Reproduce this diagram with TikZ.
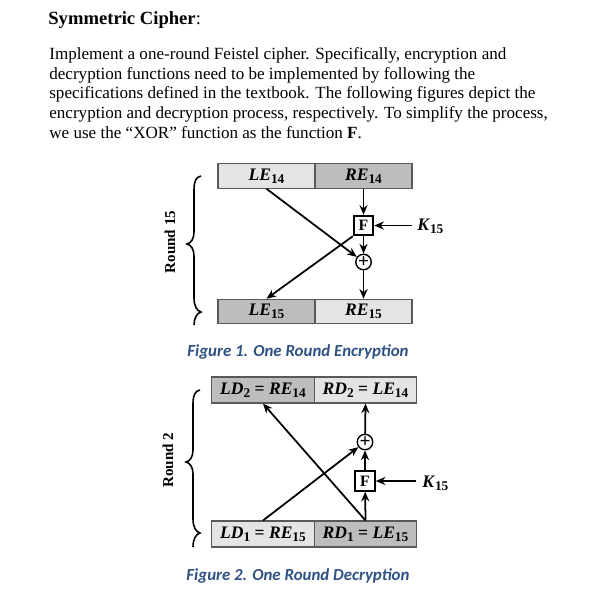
\documentclass[tikz,border=0pt]{standalone}
\usepackage{fontspec}
\setmainfont{Liberation Serif}
\newfontfamily\capfont{Carlito}
\usetikzlibrary{arrows.meta,positioning}
\definecolor{lightcell}{HTML}{E4E4E6}
\definecolor{darkcell}{HTML}{BCBDBF}
\definecolor{capblue}{HTML}{2F5283}
\newcommand{\halfblock}[2]{\textit{#1}\raisebox{-0.4ex}{\fontsize{7.6}{8}\selectfont\upshape #2}}
\begin{document}
\begin{tikzpicture}[
    x=0.02cm, y=-0.02cm,
    cell/.style={draw=black!65, line width=0.6pt, minimum height=0.49cm, inner sep=0pt, font=\fontsize{10}{10}\selectfont\bfseries},
    widecell/.style={cell, minimum height=0.52cm, minimum width=2.05cm, font=\fontsize{10}{10}\selectfont\bfseries},
    narrowcell/.style={cell, minimum width=1.94cm},
    fbox/.style={draw, line width=1.1pt, fill=white, minimum size=0.39cm, inner sep=0pt, font=\fontsize{9}{9}\selectfont\bfseries},
    xorc/.style={draw, circle, line width=0.8pt, fill=white, minimum size=0.29cm, inner sep=0pt, font=\fontsize{11}{8}\selectfont\bfseries},
    arr/.style={line width=1pt, -{Stealth[length=5.5pt,width=4.6pt]}},
    brc/.style={line width=0.9pt},
    hdr/.style={font=\fontsize{8.6}{10}\selectfont\bfseries, rotate=90},
    fig/.style={font=\fontsize{9.6}{10}\selectfont\capfont\bfseries\itshape, text=capblue},
    keytxt/.style={font=\fontsize{10}{10}\selectfont\bfseries, anchor=west, inner sep=0pt},
]
\useasboundingbox (0,0) rectangle (604,600);

% Heading and paragraph
\node[anchor=west, inner sep=0pt, font=\fontsize{10.6}{12}\selectfont] (title) at (48,20.5) {\textbf{Symmetric Cipher}:};
\node[anchor=north west, inner sep=0pt, align=left, font=\fontsize{9.72}{11.2}\selectfont] (para) at (49,47) {Implement a one-round Feistel cipher. Specifically, encryption and\\
decryption functions need to be implemented by following the\\
specifications defined in the textbook. The following figures depict the\\
encryption and decryption process, respectively. To simplify the process,\\
we use the “XOR” function as the function \textbf{F}.};

% Figure 1
\node[narrowcell, fill=lightcell] (le14) at (266.5,176) {\halfblock{LE}{14}};
\node[narrowcell, fill=darkcell] (re14) at (363.5,176) {\halfblock{RE}{14}};
\node[narrowcell, fill=darkcell] (le15) at (266.5,311.5) {\halfblock{LE}{15}};
\node[narrowcell, fill=lightcell] (re15) at (363.5,311.5) {\halfblock{RE}{15}};
\node[fbox] (f1) at (363.5,225.5) {F};
\node[xorc] (xor1) at (363.5,262) {+};
\node[keytxt] (k1) at (417,226) {\halfblock{K}{15}};
\coordinate (k1start) at (412,225.5);
\draw[arr] (re14) -- (f1);
\draw[arr] (k1start) -- (f1);
\draw[arr] (f1) -- (xor1);
\draw[arr] (xor1) -- (re15);
\draw[arr] (le14.south) -- (xor1);
\draw[arr] (f1.south west) -- (le15.north);
% Brace, with its second point clipped at the bottom
\draw[brc] (201,176) .. controls (196,177) and (194,181) .. (194,190) -- (194,232)
    .. controls (194,239) and (191,243) .. (187,244)
    .. controls (191,245) and (194,249) .. (194,256) -- (194,298)
    .. controls (194,306) and (197,311) .. (201,312)
    .. controls (197,313) and (194,318) .. (194,325);
\node[hdr] (round15) at (170,242) {Round 15};
\node[fig] (cap1) at (298,351.5) {Figure 1. One Round Encryption};

% Figure 2
\node[widecell, fill=darkcell] (ld2) at (263,390) {\halfblock{LD}{2} = \halfblock{RE}{14}};
\node[widecell, fill=lightcell] (rd2) at (365.5,390) {\halfblock{RD}{2} = \halfblock{LE}{14}};
\node[widecell, fill=lightcell] (ld1) at (263,534) {\halfblock{LD}{1} = \halfblock{RE}{15}};
\node[widecell, fill=darkcell] (rd1) at (365.5,534) {\halfblock{RD}{1} = \halfblock{LE}{15}};
\node[fbox] (f2) at (365,481) {F};
\node[xorc] (xor2) at (365,442) {+};
\node[keytxt] (k2) at (422,483) {\halfblock{K}{15}};
\coordinate (k2start) at (416,481);
\draw[arr] (rd1.north) -- (f2);
\draw[arr] (k2start) -- (f2);
\draw[arr] (f2) -- (xor2);
\draw[arr] (xor2) -- (rd2.south);
\draw[arr] (ld1.north) -- (xor2);
\draw[arr] (rd1.north) -- (ld2.south);
% Brace
\draw[brc] (200,390) .. controls (195,391) and (193,395) .. (193,404) -- (193,450)
    .. controls (193,457) and (190,461) .. (186,462)
    .. controls (190,463) and (193,467) .. (193,474) -- (193,519)
    .. controls (193,527) and (196,532) .. (200,533)
    .. controls (196,534) and (193,539) .. (193,547);
\node[hdr] (round2) at (168,460) {Round 2};
\node[fig] (cap2) at (298,575.5) {Figure 2. One Round Decryption};

\end{tikzpicture}
\end{document}
